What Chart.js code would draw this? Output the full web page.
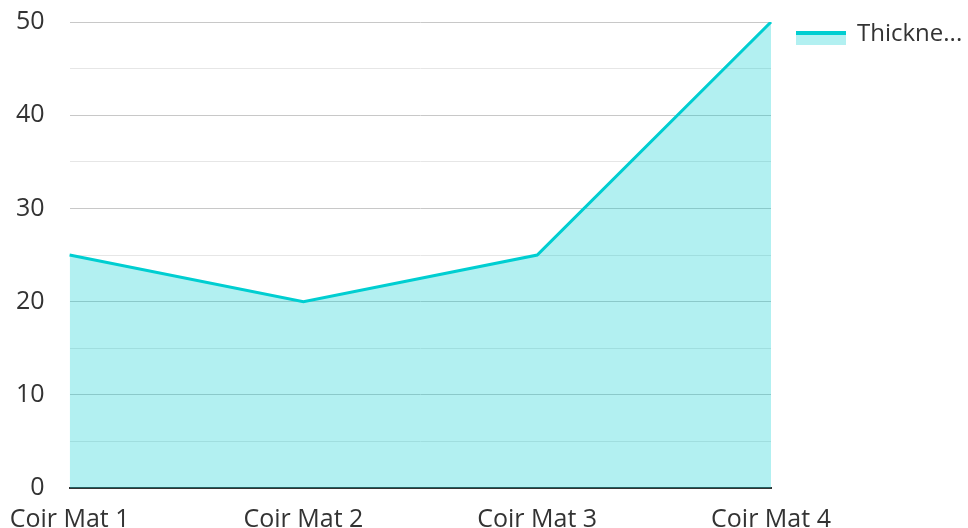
<!DOCTYPE html>
<html>
<head>
<meta charset="utf-8">
<script src="https://cdn.jsdelivr.net/npm/chart.js@4"></script>
<style>
  body { margin: 0; background: #fff; }
  #wrap { width: 968px; height: 528px; }
</style>
</head>
<body>
<div id="wrap"><canvas id="myChart"></canvas></div>
<script>
var categories = ['Coir Mat 1', 'Coir Mat 2', 'Coir Mat 3', 'Coir Mat 4'];
var thickness = [25, 20, 25, 50];
var seriesName = 'Thickness (mm)';
var legendText = 'Thickne...';

var lineColor = 'rgb(0, 206, 209)';
var fillColor = 'rgba(0, 206, 209, 0.3)';

// right-hand legend: line on top of an area swatch, then the (truncated) name
var sideLegend = {
    id: 'sideLegend',
    afterDraw: function (chart) {
        var c = chart.ctx;
        var x = chart.chartArea.right + 25;
        var y = 31;
        c.save();
        c.fillStyle = fillColor;
        c.fillRect(x, y + 4, 50, 10);
        c.fillStyle = lineColor;
        c.fillRect(x, y, 50, 4);
        c.fillStyle = '#333';
        c.font = '24px "Open Sans"';
        c.textBaseline = 'middle';
        c.fillText(legendText, x + 61, y + 3);
        c.restore();
    }
};

var ctx = document.getElementById('myChart').getContext('2d');
var myChart = new Chart(ctx, {
    type: 'line',
    data: {
        labels: categories,
        datasets: [{
            label: seriesName,
            data: thickness,
            borderColor: lineColor,
            backgroundColor: fillColor,
            borderWidth: 3,
            fill: 'origin',
            tension: 0,
            pointRadius: 0,
            pointHoverRadius: 0
        }]
    },
    options: {
        responsive: true,
        maintainAspectRatio: false,
        animation: false,
        layout: { padding: { top: 0, right: 197, left: -9, bottom: -17 } },
        plugins: {
            tooltip: { enabled: false },
            legend: { display: false }
        },
        scales: {
            x: {
                grid: { display: false },
                border: { display: true, color: '#333', width: 2 },
                ticks: {
                    color: '#333',
                    padding: 9,
                    maxRotation: 0,
                    font: { family: 'Open Sans', size: 25 }
                }
            },
            y: {
                min: 0,
                max: 50,
                border: { display: false },
                afterFit: function (scale) { scale.paddingTop = 22; },
                grid: {
                    drawTicks: false,
                    lineWidth: 1,
                    color: function (c) {
                        if (c.tick && c.tick.value === 0) return 'rgba(0,0,0,0)';
                        return (c.tick && c.tick.value % 10 === 0) ? '#c8c8c8' : '#e6e6e6';
                    }
                },
                ticks: {
                    stepSize: 5,
                    color: '#333',
                    padding: 25,
                    font: { family: 'Open Sans', size: 25 },
                    callback: function (v) { return v % 10 === 0 ? v : ''; }
                }
            }
        }
    },
    plugins: [sideLegend]
});
</script>
</body>
</html>
